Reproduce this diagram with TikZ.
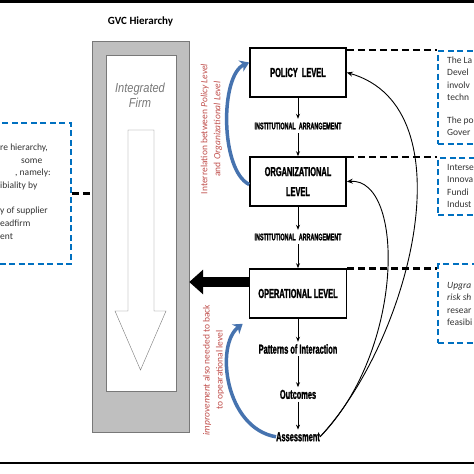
\documentclass[tikz,border=0pt]{standalone}
\usepackage{fontspec}
\setmainfont{Carlito}
\newfontfamily\narrowFont[FakeStretch=0.57, BoldFeatures={FakeBold=1.5}]{Liberation Sans}
\newfontfamily\firmFont[FakeStretch=0.85]{Liberation Sans}
\usetikzlibrary{positioning, arrows.meta}
\tikzstyle{canvas} = [x = 1pt, y = -1pt]
\definecolor{noteBlue}{RGB}{0,112,192}
\definecolor{noteRed}{RGB}{192,80,77}
\definecolor{loopBlue}{RGB}{70,115,175}
\definecolor{firmGray}{RGB}{191,191,191}
\definecolor{firmLine}{RGB}{120,120,120}
\tikzstyle{levelStyle} = [draw, line width = 1.6pt, fill = white, minimum width = 96pt, minimum height = 49pt, inner sep = 0pt, align = center, font = \narrowFont\bfseries\fontsize{13}{20}\selectfont]
\tikzstyle{stageText} = [inner sep = 0pt, minimum height = 14pt, font = \narrowFont\bfseries\fontsize{13}{15}\selectfont]
\tikzstyle{arrangeText} = [inner sep = 0pt, minimum height = 14pt, font = \narrowFont\bfseries\fontsize{9.5}{11}\selectfont]
\tikzstyle{stepArrow} = [-{Stealth[length = 5pt, width = 4pt]}, line width = 0.9pt]
\tikzstyle{noteBox} = [draw = noteBlue, line width = 1.8pt, dash pattern = on 6pt off 3.5pt, inner sep = 0pt]
\tikzstyle{noteText} = [anchor = base west, inner sep = 0pt, text = black!80, font = \fontsize{9.5}{12}\selectfont]
\tikzstyle{linkLine} = [line width = 2.6pt, dash pattern = on 7pt off 4pt]
\tikzstyle{loopArrow} = [color = loopBlue, line width = 3.5pt, -{Stealth[length = 9pt, width = 12pt]}]
\tikzstyle{backArrow} = [line width = 0.9pt, -{Stealth[length = 6pt, width = 5pt]}]
\tikzstyle{pushArrow} = [line width = 10pt, -{Triangle[length = 14pt, width = 24pt]}]
\tikzstyle{redNote} = [rotate = 90, align = center, text = noteRed, inner sep = 0pt, font = \fontsize{9.5}{13}\selectfont]
\newcommand{\noteLine}[4]{\node [noteText] (#1) at (#2, #3) {#4};}

\begin{document}
\begin{tikzpicture}[canvas]
  \useasboundingbox (0,0) rectangle (474,474);
  \clip (0,0) rectangle (474,474);
  \fill (0,0) rectangle (474,3);
  \fill (0,462) rectangle (474,464);

  % GVC column
  \node [draw = firmLine, fill = firmGray, minimum width = 97pt, minimum height = 391pt, inner sep = 0pt] (firm) at (140.5,236.5) {};
  \node [draw = firmLine, fill = white, minimum width = 70pt, minimum height = 336pt, inner sep = 0pt] (firmInner) at (141,223) {};
  \filldraw [draw = firmLine, fill = white] (128,130) -- (154,130) -- (154,311) -- (166,311) -- (140.5,370) -- (115,311) -- (128,311) -- cycle;
  \node [text = firmLine, align = center, font = \firmFont\itshape\fontsize{13}{15}\selectfont] (firmLabel) at (140,95) {Integrated\\Firm};
  \node [above = 11pt of firm, font = \bfseries\fontsize{11}{13}\selectfont] (title) {GVC Hierarchy};

  % levels
  \node [levelStyle] (policy) at (298,72.5) {POLICY~~LEVEL};
  \node [arrangeText, below = 21pt of policy] (arrangeA) {INSTITUTIONAL~~ARRANGEMENT};
  \node [levelStyle, below = 23pt of arrangeA] (org) {ORGANIZATIONAL\\LEVEL};
  \node [arrangeText, below = 23pt of org] (arrangeB) {INSTITUTIONAL~~ARRANGEMENT};
  \node [levelStyle, minimum width = 97pt, below = 24pt of arrangeB] (oper) {OPERATIONAL LEVEL};
  \node [stageText, below = 23pt of oper] (patterns) {Patterns of Interaction};
  \node [stageText, below = 31pt of patterns] (outcomes) {Outcomes};
  \node [stageText, below = 28pt of outcomes] (assess) {Assessment};
  \foreach \from/\to in {policy/arrangeA, arrangeA/org, org/arrangeB, arrangeB/oper, oper/patterns, patterns/outcomes, outcomes/assess}
    \draw [stepArrow] (\from) -- (\to);

  % notes
  \node [noteBox, minimum width = 81pt, minimum height = 141pt] (supplyNote) at (30.5,193.5) {};
  \node [noteBox, minimum width = 42pt, minimum height = 93pt] (lawNote) at (459,97.5) {};
  \node [noteBox, minimum width = 42pt, minimum height = 57pt] (fundNote) at (459,186.5) {};
  \node [noteBox, minimum width = 42pt, minimum height = 79pt] (riskNote) at (459,303.5) {};
  \noteLine{supplyA}{0}{150}{re hierarchy,}
  \noteLine{supplyB}{21}{163}{some}
  \noteLine{supplyC}{15}{175.5}{, namely:}
  \noteLine{supplyD}{0}{188}{ibiality by}
  \noteLine{supplyE}{0}{213}{y of supplier}
  \noteLine{supplyF}{0}{226}{eadfirm}
  \noteLine{supplyG}{0}{239}{ent}
  \noteLine{lawA}{447}{63}{The La}
  \noteLine{lawB}{447}{75.5}{Devel}
  \noteLine{lawC}{447}{88}{involv}
  \noteLine{lawD}{447}{100.5}{techn}
  \noteLine{lawE}{447}{123}{The po}
  \noteLine{lawF}{447}{135}{Gover}
  \noteLine{fundA}{447}{170}{Interse}
  \noteLine{fundB}{447}{182.5}{Innova}
  \noteLine{fundC}{447}{195}{Fundi}
  \noteLine{fundD}{447}{207}{Indust}
  \noteLine{riskA}{447}{288}{\textit{Upgra}}
  \noteLine{riskB}{447}{300.5}{\textit{risk sh}}
  \noteLine{riskC}{447}{313}{resear}
  \noteLine{riskD}{447}{325}{feasibi}
  \draw [linkLine] (supplyNote.east) -- (firm.west |- supplyNote.east);
  \draw [linkLine] (policy.east |- lawNote.north) -- (lawNote.north west);
  \draw [linkLine] (org.east |- fundNote.north) -- (fundNote.north west);
  \draw [linkLine] (oper.north east) -- (oper.north east -| riskNote.west);

  % feedback
  \node [redNote] (linkNote) at (211.5,129) {Interrelation between \textit{Policy Level}\\and \textit{Organizational Level}};
  \node [redNote] (backNote) at (213.5,370) {\textit{improvement} also needed to back\\to opearational level};
  \draw [loopArrow] ([yshift = -3pt]org.west) .. controls (220,170) and (220,75) .. ([yshift = 10pt]policy.west);
  \draw [loopArrow] (assess.west) .. controls (225,428) and (215,345) .. ([xshift = -6pt, yshift = -5pt]oper.south west);
  \draw [backArrow] (assess.east) .. controls (410,340) and (470,108) .. (policy.east);
  \draw [backArrow] (assess.east) .. controls (405,350) and (405,178) .. (org.east);
  \coordinate (pushY) at (0,282);
  \draw [pushArrow] (oper.west |- pushY) -- (firm.east |- pushY);
\end{tikzpicture}
\end{document}
